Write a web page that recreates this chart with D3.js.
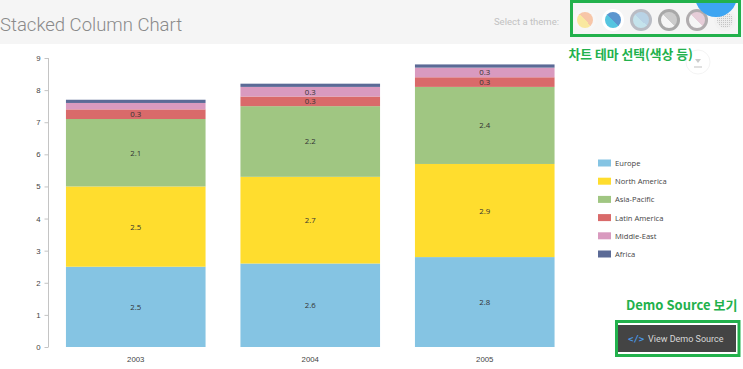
<!DOCTYPE html>
<html>
<head>
<meta charset="utf-8">
<script src="https://cdn.jsdelivr.net/npm/d3@7"></script>
<style>
html, body { margin: 0; padding: 0; background: #fff; overflow: hidden; }
svg { display: block; font-family: "Open Sans", sans-serif; }
</style>
</head>
<body>
<div id="chart"></div>
<script>
const years = ["2003", "2004", "2005"];
const regions = ["Europe", "North America", "Asia-Pacific", "Latin America", "Middle-East", "Africa"];
const europe = [2.5, 2.6, 2.8];
const northAmerica = [2.5, 2.7, 2.9];
const asiaPacific = [2.1, 2.2, 2.4];
const latinAmerica = [0.3, 0.3, 0.3];
const middleEast = [0.2, 0.3, 0.3];
const africa = [0.1, 0.1, 0.1];
const regionColors = ["#85c4e3", "#ffdd2e", "#a0c682", "#d96a6a", "#d99abf", "#5b6a96"];
const yTicks = [0, 1, 2, 3, 4, 5, 6, 7, 8, 9];
// themes: [left half, right half, ring colour]
const themes = [
    ["#f9e8a0", "#f7c6a8", "#f7f7f7"],
    ["#55c5e0", "#5b96cf", "#ffffff"],
    ["#c4e3ec", "#b9d3e6", "#b9bcc4"],
    ["#f5f5f5", "#cccccc", "#a8a8a8"],
    ["#f5f5f5", "#e6cdd8", "#b0acae"],
    ["url(#hatch)", "url(#hatch)", "#f2f2f2"]
];

const width = 743, height = 369;
const green = "#22b14c";
const svg = d3.select("#chart").append("svg")
    .attr("width", width).attr("height", height);
const defs = svg.append("defs");

const hatch = defs.append("pattern").attr("id", "hatch")
    .attr("width", 2).attr("height", 2).attr("patternUnits", "userSpaceOnUse");
hatch.append("rect").attr("width", 2).attr("height", 2).attr("fill", "#ececec");
hatch.append("rect").attr("width", 1).attr("height", 1).attr("fill", "#c4c4c4");

const table = years.map((y, i) => ({
    year: y,
    "Europe": europe[i],
    "North America": northAmerica[i],
    "Asia-Pacific": asiaPacific[i],
    "Latin America": latinAmerica[i],
    "Middle-East": middleEast[i],
    "Africa": africa[i]
}));

// page header
svg.append("rect").attr("width", width).attr("height", 44).attr("fill", "#f5f5f5");
svg.append("text").attr("x", 0).attr("y", 31)
    .style("font-family", "Roboto").style("font-weight", 300).style("font-size", "18.5px")
    .attr("fill", "#8a8a8a").text("Stacked Column Chart");
svg.append("text").attr("x", 559).attr("y", 25).attr("text-anchor", "end")
    .style("font-family", "Roboto").style("font-size", "9.5px")
    .attr("fill", "#c2c2c2").text("Select a theme:");

const themeX = d3.scalePoint().domain(d3.range(themes.length)).range([585, 725]);
themes.forEach((t, i) => {
    const g = svg.append("g").attr("transform", `translate(${themeX(i)},20)`);
    g.append("circle").attr("r", 11).attr("fill", t[2]);
    if (t[0].startsWith("url")) {
        g.append("circle").attr("r", 8).attr("fill", t[0]);
        return;
    }
    const grad = defs.append("linearGradient").attr("id", "theme" + i)
        .attr("x1", "0%").attr("y1", "100%").attr("x2", "100%").attr("y2", "0%");
    [[0, t[0]], [0.5, t[0]], [0.5, t[1]], [1, t[1]]].forEach(s => {
        grad.append("stop").attr("offset", s[0]).attr("stop-color", s[1]);
    });
    g.append("circle").attr("r", 8).attr("fill", `url(#theme${i})`);
});

// the floating blue button over the theme strip
svg.append("circle").attr("cx", 716).attr("cy", -4).attr("r", 21).attr("fill", "#3da5f2");

svg.append("rect").attr("x", 571.5).attr("y", 1.5).attr("width", 168).attr("height", 34)
    .attr("fill", "none").attr("stroke", green).attr("stroke-width", 3);

// chart
const y = d3.scaleLinear().domain([0, 9]).range([347, 58]);
const x = d3.scaleBand().domain(years).range([48.5, 572]).paddingInner(0.2).paddingOuter(0.1);

const stacked = d3.stack().keys(regions)(table);

const series = svg.append("g").selectAll("g")
    .data(stacked)
    .join("g")
    .attr("fill", (d, i) => regionColors[i]);

series.selectAll("rect")
    .data(d => d)
    .join("rect")
    .attr("x", d => x(d.data.year))
    .attr("width", x.bandwidth())
    .attr("y", d => y(d[1]))
    .attr("height", d => y(d[0]) - y(d[1]));

// value labels, skipped when the segment is too thin
series.selectAll("text")
    .data(d => d.map(v => ({ v: v, val: v[1] - v[0] })))
    .join("text")
    .filter(d => d.val > 0.25)
    .attr("x", d => x(d.v.data.year) + x.bandwidth() / 2)
    .attr("y", d => y((d.v[0] + d.v[1]) / 2) + 3)
    .attr("text-anchor", "middle")
    .attr("fill", "#333")
    .style("font-size", "7.8px")
    .text(d => d.val.toFixed(1));

const yAxis = svg.append("g").attr("transform", "translate(48.5,0)")
    .call(d3.axisLeft(y).tickValues(yTicks).tickSize(4).tickPadding(4));
yAxis.selectAll("text").attr("fill", "#444").style("font-size", "7.8px");
yAxis.selectAll("line, path").attr("stroke", "#c4c4c4");
yAxis.select("path").attr("d", "M0,58V347");

const xAxis = svg.append("g").attr("transform", "translate(0,347)")
    .call(d3.axisBottom(x).tickSize(0).tickPadding(9));
xAxis.select("path").remove();
xAxis.selectAll("text").attr("fill", "#444").style("font-size", "7.8px");

// legend
const legendY = d3.scalePoint().domain(regions).range([163, 254]);
const legend = svg.append("g").selectAll("g")
    .data(regions)
    .join("g")
    .attr("transform", d => `translate(598,${legendY(d)})`);
legend.append("rect").attr("y", -3.5).attr("width", 13).attr("height", 7)
    .attr("fill", (d, i) => regionColors[i]);
legend.append("text").attr("x", 17).attr("y", 3).attr("fill", "#444")
    .style("font-size", "7.6px").text(d => d);

// scroll button sitting on top of the chart
const scrollBtn = svg.append("g").attr("transform", "translate(698,62)");
scrollBtn.append("circle").attr("r", 12).attr("fill", "#fff").attr("stroke", "#f4f4f4");
scrollBtn.append("path").attr("d", "M-3,-3H3L0,1Z").attr("fill", "#ccc");
scrollBtn.append("path").attr("d", "M-4,5H4").attr("stroke", "#ccc").attr("stroke-width", 1.2);

// annotations
svg.append("text").attr("x", 568.5).attr("y", 59)
    .style("font-family", "'Noto Sans CJK KR'").style("font-weight", 700).style("font-size", "12.8px")
    .attr("fill", green).text("차트 테마 선택(색상 등)");
svg.append("text").attr("x", 626).attr("y", 310)
    .style("font-family", "'Noto Sans CJK KR'").style("font-weight", 700).style("font-size", "13px")
    .attr("fill", green).text("Demo Source 보기");

svg.append("rect").attr("x", 616.5).attr("y", 321.5).attr("width", 122.5).attr("height", 34)
    .attr("fill", "#fff").attr("stroke", green).attr("stroke-width", 3);
svg.append("rect").attr("x", 618).attr("y", 325).attr("width", 118).attr("height", 27).attr("fill", "#444");
svg.append("text").attr("x", 628).attr("y", 342)
    .style("font-family", "'DejaVu Sans Mono'").style("font-size", "9px").style("font-weight", 700)
    .attr("fill", "#4a9be8").text("</>");
svg.append("text").attr("x", 648).attr("y", 342)
    .style("font-family", "Roboto").style("font-size", "9px")
    .attr("fill", "#d8d8d8").text("View Demo Source");
</script>
</body>
</html>
